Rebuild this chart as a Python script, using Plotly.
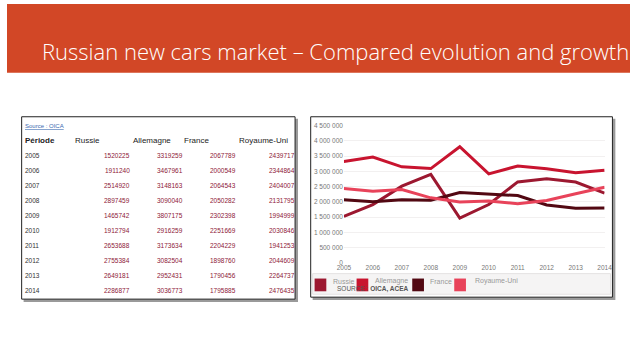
import plotly.graph_objects as go

W, H = 638, 359

years = [2005, 2006, 2007, 2008, 2009, 2010, 2011, 2012, 2013, 2014]
russie = [1520225, 1911240, 2514920, 2897459, 1465742, 1912794, 2653688, 2755384, 2649181, 2286877]
allemagne = [3319259, 3467961, 3148163, 3090040, 3807175, 2916259, 3173634, 3082504, 2952431, 3036773]
france = [2067789, 2000549, 2064543, 2050282, 2302398, 2251669, 2204229, 1898760, 1790456, 1795885]
royaume_uni = [2439717, 2344864, 2404007, 2131795, 1994999, 2030846, 1941253, 2044609, 2264737, 2476435]

series_names = ["Russie", "Allemagne", "France", "Royaume-Uni"]
series_values = [russie, allemagne, france, royaume_uni]
series_colors = ["#9c1830", "#c8142f", "#520812", "#e8435a"]

title_text = "Russian new cars market \u2013 Compared evolution and growth"
y_ticks = [0, 500000, 1000000, 1500000, 2000000, 2500000, 3000000, 3500000, 4000000, 4500000]


def px(x):
    return x / W


def py(y):
    return 1 - y / H


fig = go.Figure()
for name, vals, col in zip(series_names, series_values, series_colors):
    fig.add_trace(go.Scatter(x=years, y=vals, name=name, mode="lines",
                             line=dict(color=col, width=3), showlegend=False))

shapes = []
annotations = []

# header band
shapes.append(dict(type="rect", xref="paper", yref="paper", x0=0, x1=1, y0=py(70), y1=1,
                   fillcolor="#d24726", line=dict(width=0), layer="below"))
annotations.append(dict(xref="paper", yref="paper", x=px(34), y=py(48), xanchor="left", yanchor="middle",
                        text=title_text, showarrow=False,
                        font=dict(family="Open Sans", size=22, color="white", weight=300)))

# table box with shadow
shapes.append(dict(type="rect", xref="paper", yref="paper", x0=px(17), x1=px(298), y0=py(304), y1=py(117),
                   fillcolor="#9a9a9a", line=dict(width=0), layer="below"))
shapes.append(dict(type="rect", xref="paper", yref="paper", x0=px(15), x1=px(295), y0=py(301), y1=py(115),
                   fillcolor="white", line=dict(color="#222", width=1), layer="below"))

# chart box with shadow
shapes.append(dict(type="rect", xref="paper", yref="paper", x0=px(313), x1=px(623), y0=py(302), y1=py(117),
                   fillcolor="#9a9a9a", line=dict(width=0), layer="below"))
shapes.append(dict(type="rect", xref="paper", yref="paper", x0=px(311), x1=px(620), y0=py(299), y1=py(115),
                   fillcolor="white", line=dict(color="#222", width=1), layer="below"))
# legend strip
shapes.append(dict(type="rect", xref="paper", yref="paper", x0=px(313), x1=px(618), y0=py(296), y1=py(275),
                   fillcolor="#f5f4f4", line=dict(color="#e4e2e2", width=1), layer="below"))

# table text
annotations.append(dict(xref="paper", yref="paper", x=px(16), y=py(124), xanchor="left", yanchor="middle",
                        text="<u>Source : OICA</u>", showarrow=False,
                        font=dict(family="Liberation Sans", size=6, color="#3a6ab0")))
header_x = [16, 68, 127, 179, 236]
header_txt = ["<b>Période</b>", "Russie", "Allemagne", "France", "Royaume-Uni"]
for hx, ht in zip(header_x, header_txt):
    annotations.append(dict(xref="paper", yref="paper", x=px(hx), y=py(139), xanchor="left", yanchor="middle",
                            text=ht, showarrow=False,
                            font=dict(family="Liberation Sans", size=8, color="#222")))
col_right = [128, 182, 237, 297]
for i, yr in enumerate(years):
    ry = 155 + i * 15.2
    annotations.append(dict(xref="paper", yref="paper", x=px(16), y=py(ry), xanchor="left", yanchor="middle",
                            text=str(yr), showarrow=False,
                            font=dict(family="Liberation Sans", size=6.5, color="#333")))
    for cr, vals in zip(col_right, series_values):
        annotations.append(dict(xref="paper", yref="paper", x=px(cr), y=py(ry), xanchor="right",
                                yanchor="middle", text=str(vals[i]), showarrow=False,
                                font=dict(family="Liberation Sans", size=6.5, color="#8e2038")))

# legend
sw_x = [315, 358, 415, 458]
lab_x = [332, 375, 431, 477]
for sx, lx, name, col in zip(sw_x, lab_x, series_names, series_colors):
    shapes.append(dict(type="rect", xref="paper", yref="paper", x0=px(sx), x1=px(sx + 12),
                       y0=py(293), y1=py(280), fillcolor=col, line=dict(width=0)))
    annotations.append(dict(xref="paper", yref="paper", x=px(lx), y=py(283), xanchor="left", yanchor="middle",
                            text=name, showarrow=False,
                            font=dict(family="Liberation Sans", size=7, color="#999")))
annotations.append(dict(xref="paper", yref="paper", x=px(336), y=py(291), xanchor="left", yanchor="middle",
                        text="SOURCE : <b>OICA, ACEA</b>", showarrow=False,
                        font=dict(family="Liberation Sans", size=6.5, color="#555")))

fig.update_layout(
    width=W, height=H, margin=dict(l=0, r=0, t=0, b=0),
    paper_bgcolor="white", plot_bgcolor="#d8d4d3",
    separators=", ",
    shapes=shapes, annotations=annotations,
    xaxis=dict(domain=[px(345), px(612)], range=[2005, 2014], tickvals=years,
               ticktext=[str(y) for y in years], showgrid=False, zeroline=False,
               showline=False, ticks="", tickfont=dict(family="Liberation Sans", size=6.5, color="#777")),
    yaxis=dict(domain=[py(264), py(124)], range=[0, 4500000], tickvals=y_ticks,
               tickformat=",d", showgrid=True, gridcolor="#f2f0f0", gridwidth=1, zeroline=False,
               showline=False, ticks="", tickfont=dict(family="Liberation Sans", size=6.5, color="#777")),
)

fig.write_html("out.html", config={"displayModeBar": False})

with open("out.html", "r", encoding="utf-8") as f:
    html = f.read()
html = html.replace("<head>", "<head><style>html,body{margin:0;padding:0;overflow:hidden;}</style>", 1)
with open("out.html", "w", encoding="utf-8") as f:
    f.write(html)
